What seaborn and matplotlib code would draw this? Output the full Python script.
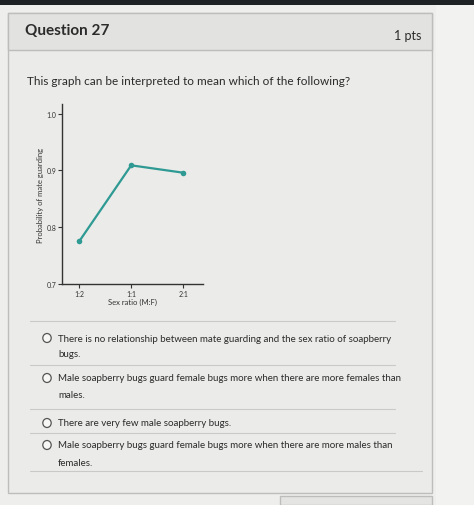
import matplotlib
matplotlib.use("Agg")
import matplotlib.pyplot as plt
import matplotlib.patches as mpatches
import pandas as pd
import seaborn as sns

# data
ratios = ["1:2", "1:1", "2:1"]
guarding = [0.775, 0.909, 0.896]
y_ticks = [0.7, 0.8, 0.9, 1.0]

question = "Question 27"
points = "1 pts"
prompt = "This graph can be interpreted to mean which of the following?"
answers = [
    ["There is no relationship between mate guarding and the sex ratio of soapberry", "bugs."],
    ["Male soapberry bugs guard female bugs more when there are more females than", "males."],
    ["There are very few male soapberry bugs."],
    ["Male soapberry bugs guard female bugs more when there are more males than", "females."],
]

sns.set_theme(style="white")
plt.rcParams["font.family"] = ["Lato", "DejaVu Sans"]

W, H = 474, 506
fig = plt.figure(figsize=(W / 100, H / 100), dpi=100)
fig.patch.set_facecolor("#eeeeec")


def px(x, y):
    # pixel coords (from top-left) to figure fraction
    return x / W, 1 - y / H


def rect(x0, y0, x1, y1, fc, ec="none", lw=1.0):
    fig.patches.append(mpatches.Rectangle(
        (x0 / W, 1 - y1 / H), (x1 - x0) / W, (y1 - y0) / H,
        transform=fig.transFigure, facecolor=fc, edgecolor=ec, linewidth=lw, zorder=-2))


def hline(x0, x1, y, color="#c9c9c7", lw=0.8):
    fig.add_artist(plt.Line2D([x0 / W, x1 / W], [1 - y / H, 1 - y / H],
                              transform=fig.transFigure, color=color, linewidth=lw))


# screen edge and card
rect(0, 0, W, 6, "#1e2224")
rect(436, 6, W, H, "#f2f2f0")
rect(8, 14, 432, 494, "#ebebe9", ec="#bdbdbb", lw=1.0)
rect(8, 14, 432, 51, "#e2e2e0", ec="#bdbdbb", lw=1.0)
rect(280, 497, 432, H, "#e4e4e2", ec="#bdbdbb", lw=1.0)

fig.text(*px(25, 31), question, fontsize=11, fontweight="bold", color="#2b2b2b", va="center")
fig.text(*px(421, 36), points, fontsize=9, color="#2b2b2b", va="center", ha="right")
fig.text(*px(27, 82), prompt, fontsize=8.5, color="#2b2b2b", va="center")

# the graph
df = pd.DataFrame({"ratio": ratios, "guarding": guarding})
ax = fig.add_axes([62 / W, 1 - 285 / H, 141 / W, 180 / H])
ax.set_zorder(3)
ax.set_facecolor("none")
sns.lineplot(data=df, x="ratio", y="guarding", sort=False, marker="o",
             color="#2e9a93", linewidth=1.6, markersize=4, markeredgewidth=0, ax=ax)
ax.set_xlim(-0.33, 2.38)
ax.set_ylim(0.7, 1.017)
ax.set_yticks(y_ticks)
ax.set_yticklabels([f"{v:.1f}" for v in y_ticks])
ax.set_xlabel("Sex ratio (M:F)", fontsize=5.5, color="#333333", labelpad=1)
ax.set_ylabel("Probability of mate guarding", fontsize=5.5, color="#333333", labelpad=2)
ax.tick_params(axis="both", labelsize=5, colors="#333333", length=3, width=0.8,
               direction="out", pad=1, left=True, bottom=True)
for side in ["top", "right"]:
    ax.spines[side].set_visible(False)
for side in ["left", "bottom"]:
    ax.spines[side].set_color("#333333")
    ax.spines[side].set_linewidth(1.0)

# answer choices
rows = [(322, [339, 355]), (366, [379, 396]), (410, [424]), (434, [446, 463])]
for (sep, ys), lines in zip(rows, answers):
    hline(30, 395, sep)
    fig.add_artist(mpatches.Circle(px(47, ys[0]), 4.2 / W, transform=fig.transFigure,
                                   facecolor="#f7f7f5", edgecolor="#555555", linewidth=0.9))
    for y, line in zip(ys, lines):
        fig.text(*px(58, y), line, fontsize=7, color="#2b2b2b", va="center")
hline(30, 422, 472)

fig.savefig("out.png", dpi=100)
